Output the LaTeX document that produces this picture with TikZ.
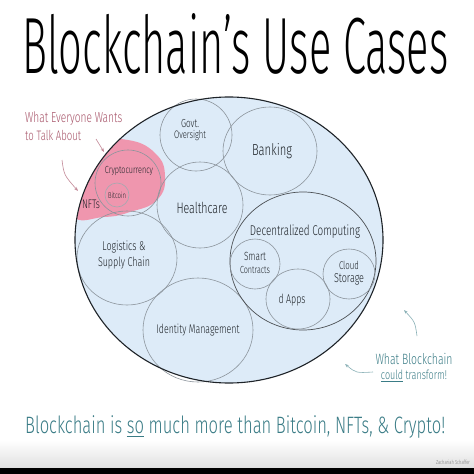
\documentclass[tikz,border=0pt]{standalone}
\usepackage{fontspec}
\setmainfont{Fira Sans Light}[FakeStretch=0.7]
\usepackage{graphicx}
\usetikzlibrary{arrows.meta,shapes.geometric}
\definecolor{bgblue}{HTML}{DDEBF8}
\definecolor{ringgray}{HTML}{8C949C}
\definecolor{ink}{HTML}{1E2328}
\definecolor{pinkfill}{HTML}{F28DA6}
\definecolor{pinkink}{HTML}{A8556A}
\definecolor{tealink}{HTML}{3A7C86}
\newcommand\fw[2]{\resizebox{#1pt}{!}{#2}}
\tikzset{
  sub/.style={draw=ringgray, line width=0.6pt},
  lbl/.style={text=ink, inner sep=0pt, align=center},
  pinknote/.style={text=pinkink, inner sep=0pt, align=left},
  tealnote/.style={text=tealink, inner sep=0pt, align=center},
  pinkarrow/.style={draw=pinkink!70, line width=0.6pt, -{Stealth[length=4pt,width=3pt]}},
  tealarrow/.style={draw=tealink!60, line width=0.6pt, -{Stealth[length=4pt,width=3pt]}},
}
\begin{document}
\begin{tikzpicture}[x=1pt,y=-1pt]
\useasboundingbox (0,0) rectangle (474,474);
\fill[white] (0,0) rectangle (474,474);
% bottom strip
\shade[top color=white, bottom color=black!12] (0,440) rectangle (474,468);
\fill[black] (0,468) rectangle (474,474);
% title
\node[anchor=base west, inner sep=0pt, text=black] (title) at (22,73) {\resizebox{426pt}{60pt}{Blockchain's Use Cases}};
% big circle
\fill[bgblue] (229,240) ellipse [x radius=154, y radius=143];
% pink blob clipped
\begin{scope}
  \clip (229,240) ellipse [x radius=154, y radius=143];
  \fill[pinkfill, opacity=0.9] plot[smooth cycle, tension=0.8] coordinates {(100,144) (128,140) (155,153) (165,176) (157,200) (130,212) (104,217) (72,215) (70,170)};
\end{scope}
% sub circles
\draw[sub] (196,135) circle [radius=36] ;
\node[lbl] (govt) at (190,130) {\fw{18}{Govt.}\\[-1pt]\fw{32}{Oversight}};
\draw[sub] (270,151) ellipse [x radius=47, y radius=44];
\node[lbl] (banking) at (272,151) {\fw{40}{Banking}};
\draw[sub] (128,183) circle [radius=33];
\node[lbl] (crypto) at (129,171) {\fw{48}{Cryptocurrency}};
\draw[sub, draw=ringgray!80] (117,195) circle [radius=12];
\node[lbl] (bitcoin) at (117,195) {\fw{18}{Bitcoin}};
\node[lbl] (nfts) at (91,204) {\fw{18}{NFTs}};
\draw[sub] (200,205) circle [radius=43];
\node[lbl] (health) at (202,208) {\fw{51}{Healthcare}};
\draw[sub] (127,258) ellipse [x radius=50, y radius=47];
\node[lbl] (logistics) at (124,255) {\fw{43}{Logistics \&}\\[2pt]\fw{52}{Supply Chain}};
\draw[sub] (198,330) ellipse [x radius=55, y radius=52];
\node[lbl] (identity) at (198,330) {\fw{83}{Identity Management}};
\draw[sub, draw=ink!80, line width=0.7pt] (303,261) ellipse [x radius=73, y radius=69];
\node[lbl] (decent) at (305,232) {\fw{110}{Decentralized Computing}};
\draw[sub] (255,264) circle [radius=25];
\node[lbl] (smart) at (255,263) {\fw{22}{Smart}\\[1pt]\fw{30}{Contracts}};
\draw[sub] (298,299) ellipse [x radius=32, y radius=30];
\node[lbl] (dapps) at (292,300) {\fw{27}{d Apps}};
\draw[sub] (349,274) ellipse [x radius=26, y radius=25];
\node[lbl] (cloud) at (349,273) {\fw{20}{Cloud}\\[1pt]\fw{30}{Storage}};
% big circle border
\draw[ink, line width=1.1pt] (229,240) ellipse [x radius=154, y radius=143];
% pink note
\node[pinknote, anchor=north west] (pnote) at (25,112) {\fw{97}{What Everyone Wants}\\[3pt]\fw{56}{to Talk About}};
\coordinate (pa1s) at (96,139);
\coordinate (pa1e) at (104,152);
\coordinate (pa2s) at (62,160);
\coordinate (pa2e) at (78,191);
\draw[pinkarrow] (pa1s) -- (pa1e);
\draw[pinkarrow] (pa2s) .. controls (64,175) .. (pa2e);
% teal note
\node[tealnote] (tnote) at (414,368) {\fw{77}{What Blockchain}\\[3pt]\fw{66}{\underline{could} transform!}};
\coordinate (ta1s) at (417,336);
\coordinate (ta1e) at (404,310);
\coordinate (ta2s) at (373,372);
\coordinate (ta2e) at (345,364);
\draw[tealarrow] (ta1s) .. controls (415,322) .. (ta1e);
\draw[tealarrow] (ta2s) .. controls (356,373) .. (ta2e);
% bottom line
\node[tealnote, anchor=base west] (tagline) at (25,433) {\fw{420}{Blockchain is \underline{so} much more than Bitcoin, NFTs, \& Crypto!}};
% signature
\node[text=black!55, inner sep=0pt] (sig) at (453,462) {\fw{34}{Zachariah Schaffer}};
\end{tikzpicture}
\end{document}
